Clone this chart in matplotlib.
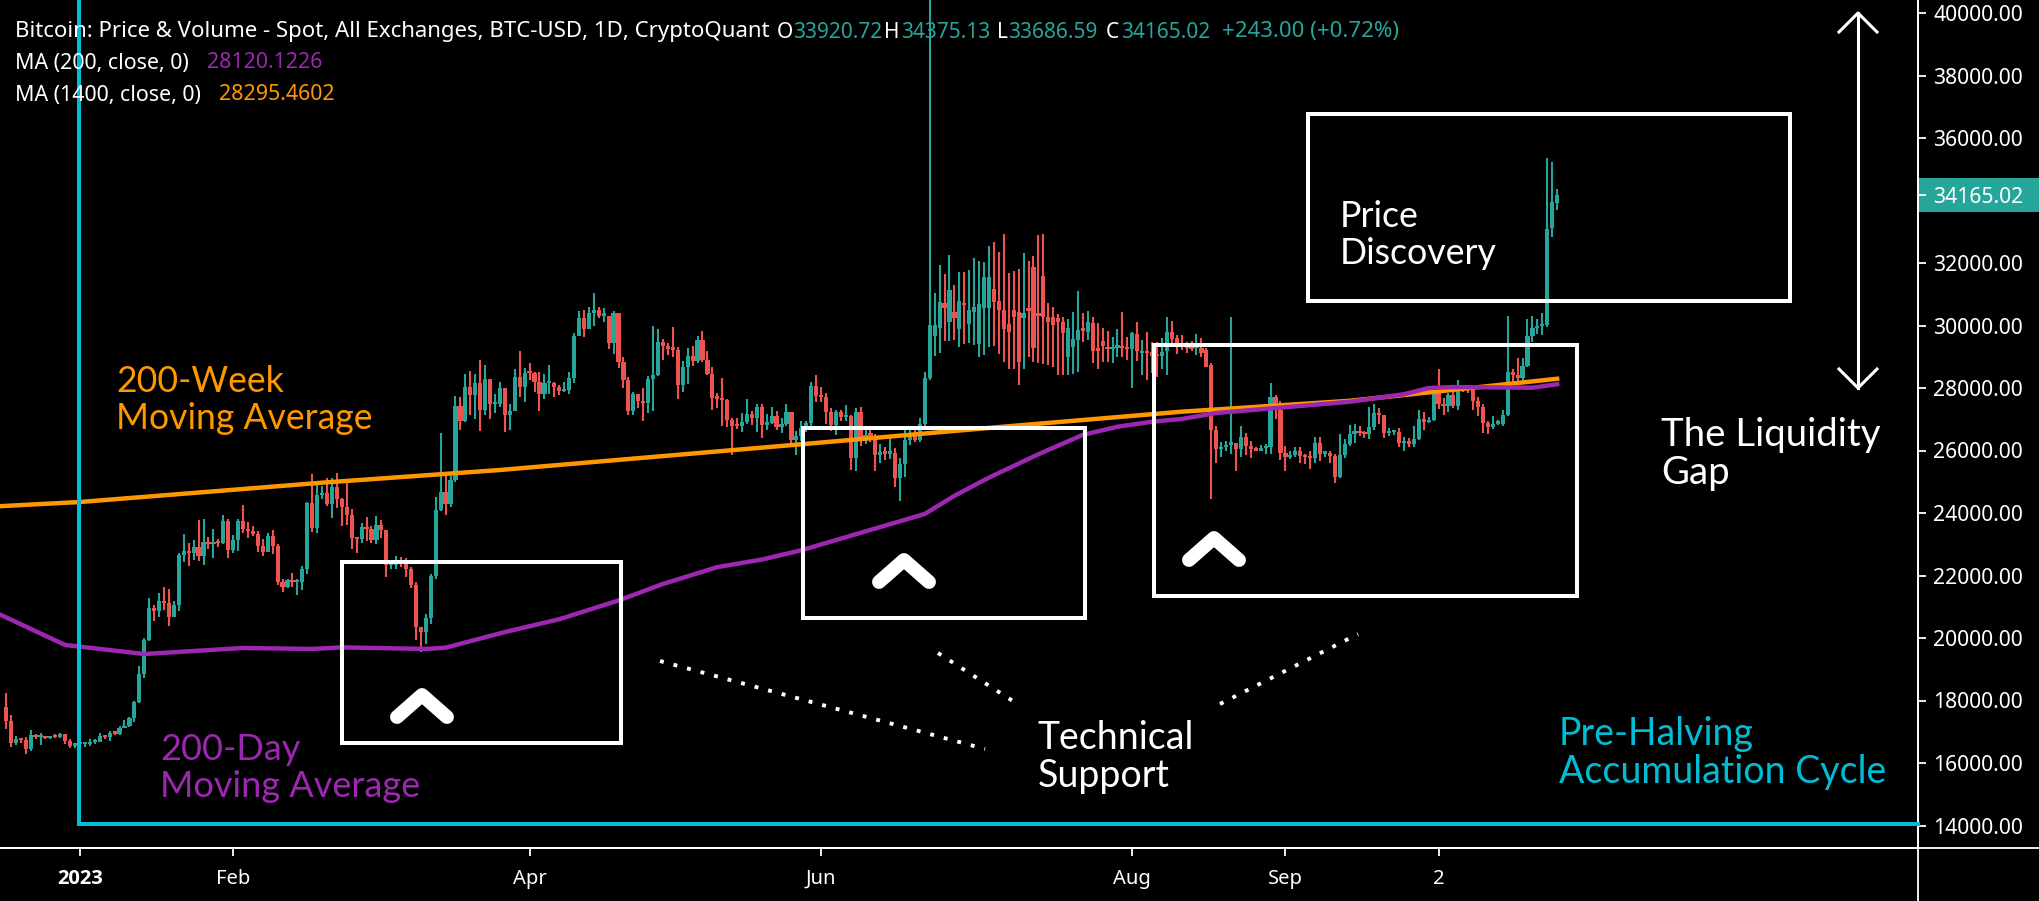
# BTC daily candles with 200-day / 200-week moving averages

import numpy as np
import matplotlib
matplotlib.use('Agg')
import matplotlib.pyplot as plt
from matplotlib.patches import Rectangle

# ---------- data (first bar is day -16, day 0 = 1 Jan 2023) ----------
first_day = -16
first_open = 17780
closes = [
    # Dec
    17360, 16630, 16780, 16740, 16440, 16900, 16820, 16830, 16800, 16850, 16840, 16920, 16710, 16550, 16640, 16600,
    # Jan
    16610, 16670, 16670, 16850, 16830, 16950, 16940, 17120, 17180, 17440, 17940, 18850, 19930, 20960, 20880, 21170,
    21130, 20680, 21070, 22670, 22780, 22710, 22920, 22630, 23060, 23010, 23080, 23030, 23740, 22830, 23130,
    # Feb
    23730, 23490, 23430, 23330, 22940, 22760, 23260, 22960, 21800, 21630, 21860, 21780, 21790, 22200, 24330, 23530,
    24570, 24630, 24280, 24840, 24450, 24190, 23940, 23190, 23160, 23560, 23490, 23140,
    # Mar
    23630, 23470, 22350, 22350, 22430, 22410, 22200, 21700, 20360, 20190, 20630, 21990, 24110, 24670, 24290, 25050,
    27420, 26960, 28030, 27780, 28170, 27300, 28300, 27480, 27490, 27990, 27130, 27260, 28350, 28030, 28480,
    # Apr
    28470, 28200, 27800, 28170, 28170, 28030, 27910, 27950, 28330, 29650, 30230, 29890, 30400, 30490, 30320, 30320,
    29440, 30400, 28820, 28250, 27270, 27820, 27590, 27510, 28300, 28420, 29470, 29340, 29240, 29230,
    # May
    28090, 28680, 29030, 28850, 29530, 28900, 28450, 27690, 27660, 27620, 26990, 26800, 26780, 26920, 27160, 27030,
    27400, 26830, 26890, 27110, 26750, 26850, 27220, 26330, 26480, 26720, 26870, 28080, 27740, 27700, 27220,
    # Jun 1-20
    26810, 27230, 27070, 27100, 25760, 27230, 26340, 26490, 26480, 25850, 25940, 25900, 25920, 25130, 25580, 26340,
    26510, 26340, 26850, 28310,
    # Jun 21 - Aug 17
    30016, 30016, 30741, 30549, 31136, 30251, 30784, 30656, 30496, 30603, 30677, 31563, 31563, 30763, 30496, 29888,
    29802, 30283, 28843, 30389, 30475, 29291, 30304, 30283, 30101, 30016, 30101, 29770, 29909, 29568, 29856, 29835,
    30123, 29184, 29195, 29344, 29237, 29323, 29376, 29269, 29237, 29771, 29184, 29163, 29109, 29035, 29024, 29163,
    29781, 29568, 29429, 29376, 29269, 29237, 29323, 29109, 28683, 26650,
    # Aug 18-31
    26050, 26100, 26190, 26230, 26040, 26430, 26160, 26050, 26000, 26090, 26100, 27720, 27300, 25930,
    # Sep
    25800, 25870, 25970, 25830, 25780, 25750, 26240, 25900, 25900, 25840, 25160, 25850, 26220, 26540, 26610, 26570,
    26530, 26760, 27210, 27130, 26570, 26580, 26580, 26250, 26300, 26220, 26370, 27020, 26910, 26970,
    # Oct
    27990, 27500, 27430, 27790, 27420, 27950, 27960, 27930, 27590, 27390, 26880, 26760, 26860, 26860, 27150, 28520,
    28420, 28320, 28720, 29680, 29910, 29990, 30030, 33090, 33950, 34165.02,
]
highs = [
    18240, 17530, 16850, 16800, 16820, 17050, 16920, 16950, 16870, 16880, 16930, 16970, 16930, 16780, 16650, 16650,
    16630, 16760, 16770, 16970, 16880, 17020, 16960, 17170, 17390, 17480, 18000, 19100, 20000, 21280, 21070, 21450,
    21630, 21580, 21190, 22730, 23320, 23050, 23150, 23790, 23800, 23230, 23480, 23180, 23950, 23800, 23300,
    23800, 24250, 23700, 23590, 23440, 23160, 23350, 23450, 23010, 21900, 21900, 22080, 21880, 22320, 24350, 25250,
    25020, 24870, 25130, 25120, 25280, 24480, 25040, 24130, 23220, 23680, 23880, 23600,
    23890, 23790, 23470, 22420, 22610, 22600, 22550, 22280, 21800, 20300, 20780, 22050, 24500, 26560, 25250, 25200,
    27750, 27700, 28450, 28530, 28450, 28900, 28750, 28000, 27800, 28200, 27990, 27500, 28620, 29170, 28650,
    28800, 28500, 28500, 28450, 28750, 28180, 28100, 28180, 28500, 29770, 30450, 30500, 30600, 31040, 30600, 30550,
    30320, 30480, 30400, 29000, 28350, 27880, 27820, 28000, 28400, 30000, 29880, 29580, 29450, 29950,
    29300, 28880, 29280, 29360, 29680, 29830, 29180, 28660, 27840, 28330, 27650, 27050, 27050, 27200, 27650, 27280,
    27480, 27480, 27180, 27400, 27250, 27050, 27480, 27220, 26620, 26930, 26950, 28180, 28430, 28030, 27830,
    27350, 27300, 27300, 27450, 27130, 27350, 27400, 26800, 26770, 26520, 26200, 26100, 26400, 26080, 25750, 26770,
    26780, 26680, 27040, 28512,
    41500, 31029, 31936, 31637, 32256, 31296, 31722, 31722, 31776, 32149, 32064, 32021, 32555, 32683, 32341, 32917,
    31691, 31755, 31808, 32309, 32064, 32235, 32896, 32917, 30709, 30603, 30368, 30283, 30197, 30443, 31104, 30411,
    30475, 30261, 30069, 29909, 29835, 29642, 29877, 30443, 29642, 29800, 30123, 29536, 29781, 29461, 29483, 29589,
    30261, 30144, 29696, 29696, 29483, 29515, 29717, 29589, 29269, 28800,
    26800, 26280, 26300, 30280, 26130, 26800, 26550, 26300, 26100, 26170, 26220, 28170, 27780, 27570,
    26150, 25980, 26100, 26100, 25880, 26000, 26420, 26430, 25940, 25980, 25880, 26530, 26380, 26830, 26850, 26770,
    26620, 27400, 27490, 27370, 27150, 26720, 26630, 26720, 26430, 26400, 26800, 27300, 27230, 27080,
    28060, 28600, 27670, 27830, 28100, 28250, 28000, 28110, 27990, 27720, 27480, 26950, 27100, 26980, 27300, 30304,
    28620, 28970, 28950, 30220, 30300, 30200, 30400, 35370, 35230, 34375.13,
]
lows = [
    17100, 16500, 16580, 16650, 16300, 16400, 16770, 16570, 16760, 16780, 16790, 16800, 16600, 16470, 16490, 16500,
    16500, 16550, 16600, 16660, 16770, 16690, 16910, 16910, 17110, 17140, 17320, 17920, 18720, 19890, 20550, 20680,
    20900, 20400, 20670, 20880, 22420, 22300, 22500, 22480, 22350, 22850, 22550, 22900, 23000, 22550, 22720,
    22800, 23360, 23200, 23250, 22750, 22630, 22750, 22680, 21700, 21470, 21600, 21620, 21370, 21530, 22050, 23400,
    23350, 24450, 24230, 23850, 24170, 23600, 23620, 22850, 22730, 23050, 23120, 23030,
    23000, 23200, 21950, 22220, 22210, 22270, 21950, 21600, 19950, 19560, 19800, 20440, 21900, 24050, 23950, 24200,
    25000, 26650, 26900, 27150, 27000, 26620, 27150, 27000, 27200, 27380, 26600, 26650, 27250, 27720, 27550,
    28250, 27870, 27250, 27650, 27820, 27720, 27780, 27880, 27800, 28170, 29650, 29620, 29880, 30000, 30230, 30120,
    29250, 29100, 28650, 28000, 27150, 27150, 27350, 26950, 27200, 27250, 28400, 28900, 29050, 29000,
    27650, 27870, 28130, 28700, 28800, 28820, 28420, 27300, 27350, 26800, 26740, 25850, 26700, 26600, 26850, 26830,
    26580, 26400, 26650, 26860, 26650, 26550, 26800, 26100, 25870, 26320, 26600, 26780, 27560, 27550, 26850,
    26620, 26500, 26950, 26950, 25390, 25350, 26130, 26200, 26270, 25350, 25600, 25700, 25720, 24830, 24400, 25160,
    26170, 26280, 26260, 26650,
    28256, 29024, 29109, 29515, 29515, 29536, 29301, 29408, 29429, 29376, 29003, 29056, 29323, 29344, 29077, 28843,
    28597, 28597, 28096, 28608, 29003, 28843, 28811, 28768, 28736, 28683, 28416, 28416, 28416, 28437, 28523, 29483,
    29536, 28789, 28608, 28843, 28843, 28811, 29003, 29003, 28896, 28010, 28875, 28416, 28256, 28469, 28341, 28597,
    28416, 29323, 29077, 29216, 29109, 29200, 29056, 29003, 28661, 24450,
    25600, 25800, 26000, 25900, 25350, 25800, 25860, 25770, 25970, 25970, 25880, 25900, 27000, 25700,
    25340, 25730, 25800, 25600, 25570, 25400, 25600, 25650, 25800, 25600, 24950, 25130, 25750, 26130, 26230, 26470,
    26400, 26380, 26670, 26850, 26400, 26480, 26500, 26120, 26000, 26110, 26120, 26340, 26670, 26890,
    26950, 27330, 27150, 27220, 27370, 27290, 27860, 27850, 27300, 27100, 26560, 26540, 26700, 26810, 26800, 27120,
    28100, 28150, 28170, 28670, 29480, 29730, 29700, 29950, 32830, 33686.59,
]
# bodies between 21 Jun and 17 Aug do not open at the previous close
midyear_start = 171
midyear_opens = [
    28309, 29664, 29909, 30709, 30101, 30443, 29888, 30709, 30037, 30443, 29408, 30549, 30549, 31157, 30784, 30496,
    30048, 30496, 30443, 30251, 30528, 31883, 30389, 31584, 30283, 30283, 30229, 30123, 29003, 29301, 29536, 29909,
    29781, 30069, 29237, 29515, 29269, 29237, 29269, 29344, 29269, 29237, 29717, 29109, 29141, 29163, 29056, 29035,
    29195, 29781, 29589, 29429, 29323, 29344, 29269, 29269, 29216, 28736,
]
last_opens = [30016, 33120, 33920.72]

ma200_days = [-17, -4, 12, 32, 46, 52, 69, 73, 85, 96, 108, 117, 128, 137, 145, 170, 176, 183, 193, 202, 209, 216, 222,
              229, 256, 267, 272, 277, 293, 298]
ma200_vals = [20736, 19776, 19488, 19680, 19650, 19700, 19650, 19690, 20190, 20600, 21200, 21730, 22268, 22510, 22807,
              23970, 24550, 25133, 25880, 26500, 26760, 26920, 27008, 27200, 27560, 27800, 28000, 28030, 28010, 28120]
ma1400_days = [-17, -1, 48, 84, 145, 185, 222, 256, 298]
ma1400_vals = [24220, 24352, 24970, 25376, 26200, 26750, 27242, 27590, 28295]

price_ticks = [14000, 16000, 18000, 20000, 22000, 24000, 26000, 28000, 30000, 32000, 34165.02, 36000, 38000, 40000]
date_ticks = [-1, 30, 90, 149, 212, 243, 274]
date_labels = ['2023', 'Feb', 'Apr', 'Jun', 'Aug', 'Sep', '2']

# ---------- colours ----------
teal = '#26a69a'
red = '#ef5350'
orange = '#ff9800'
purple = '#9c27b0'
cyan = '#00bcd4'
white = '#ffffff'

font_ui = 'Noto Sans'
font_note = 'Lato'

# ---------- canvas: sizes below are pixels of the 2040x901 picture ----------
W, H = 2040, 901
fig = plt.figure(figsize=(W / 100, H / 100), dpi=100, facecolor='black')
plot_right, plot_bottom = 1918, 848
ax = fig.add_axes([0, 1 - plot_bottom / H, plot_right / W, plot_bottom / H], facecolor='black')
ax.set_xlim(-17.2, 371.05)
ax.set_ylim(13280, 40416)

# ---------- candles ----------
closes = np.array(closes, dtype=float)
highs = np.array(highs, dtype=float)
lows = np.array(lows, dtype=float)
opens = np.r_[first_open, closes[:-1]]
i0 = midyear_start - first_day
opens[i0:i0 + len(midyear_opens)] = midyear_opens
opens[-len(last_opens):] = last_opens
days = np.arange(first_day, first_day + len(closes))
colors = [teal if c >= o else red for o, c in zip(opens, closes)]

ax.vlines(days, lows, highs, colors=colors, lw=1.5, zorder=2)
ax.bar(days, np.maximum(np.abs(closes - opens), 70), bottom=np.minimum(opens, closes),
       width=0.85, color=colors, linewidth=0, zorder=2.1)

# ---------- moving averages ----------
ax.plot(ma1400_days, ma1400_vals, color=orange, lw=3.2, zorder=3)
ax.plot(ma200_days, ma200_vals, color=purple, lw=3.2, zorder=3.1)

# ---------- axes ----------
for side in ['top', 'left']:
    ax.spines[side].set_visible(False)
ax.spines['right'].set_color(white)
ax.spines['bottom'].set_color(white)
ax.spines['right'].set_linewidth(1.3)
ax.spines['bottom'].set_linewidth(1.3)
ax.yaxis.tick_right()
ax.set_yticks(price_ticks)
ax.set_yticklabels(['%.2f' % v for v in price_ticks], family=font_ui, fontsize=15.2, color=white)
ax.set_xticks(date_ticks)
ax.set_xticklabels(date_labels, family=font_ui, fontsize=14.5, color=white)
ax.get_xticklabels()[0].set(family='Open Sans', fontweight='bold')
ax.tick_params(axis='y', length=6, width=1.3, color=white, pad=5)
ax.tick_params(axis='x', length=6, width=1.3, color=white, pad=9)

# price tag behind the last price label
ax.add_patch(Rectangle((1, 34165.02 - 544), (W - plot_right) / plot_right, 1088,
                       transform=ax.get_yaxis_transform(), facecolor=teal, edgecolor='none',
                       clip_on=False, zorder=0.5))

# ---------- drawn-on notes, in picture pixels ----------
ov = fig.add_axes([0, 0, 1, 1])
ov.set_xlim(0, W)
ov.set_ylim(H, 0)
ov.axis('off')

ov.plot([0, W], [plot_bottom, plot_bottom], color=white, lw=1.3)
ov.plot([plot_right, plot_right], [0, H], color=white, lw=1.3)

# header
head = dict(family=font_ui, fontsize=16, va='center', ha='left')
vals = dict(family=font_ui, fontsize=15.4, va='center', ha='left')
ohlc = dict(family=font_ui, fontsize=15, va='center', ha='left')
ov.text(15, 32, 'Bitcoin: Price & Volume - Spot, All Exchanges, BTC-USD, 1D, CryptoQuant', color=white, **head)
for x, letter in [(777, 'O'), (884, 'H'), (997, 'L'), (1106, 'C')]:
    ov.text(x, 32, letter, color=white, **ohlc)
for x, value in [(793, '33920.72'), (901, '34375.13'), (1008, '33686.59'), (1121, '34165.02')]:
    ov.text(x, 32, value, color=teal, **ohlc)
ov.text(1222, 32, '+243.00 (+0.72%)', color=teal, **head)
ov.text(15, 63, 'MA (200, close, 0)', color=white, **vals)
ov.text(207, 63, '28120.1226', color=purple, **vals)
ov.text(15, 95, 'MA (1400, close, 0)', color=white, **vals)
ov.text(219, 95, '28295.4602', color=orange, **vals)

# cyan cycle marker
ov.plot([79, 79, plot_right], [0, 824, 824], color=cyan, lw=2.9, solid_joinstyle='miter')

# boxes
for x0, y0, x1, y1 in [(342, 562, 621, 743), (803, 428, 1085, 618), (1154, 345, 1577, 596), (1308, 114, 1790, 301)]:
    ov.add_patch(Rectangle((x0, y0), x1 - x0, y1 - y0, fill=False, edgecolor=white, lw=2.9))

# chevrons
for x, y in [(422, 695), (904, 560), (1214, 538)]:
    ov.plot([x - 25, x, x + 25], [y + 22, y, y + 22], color=white, lw=10,
            solid_capstyle='round', solid_joinstyle='round')

# dotted leaders
for x0, y0, x1, y1 in [(660, 661, 985, 749), (938, 653, 1016, 703), (1220, 704, 1358, 634)]:
    ov.plot([x0, x1], [y0, y1], color=white, lw=2.8, linestyle=(0, (1, 2.6)))

# liquidity gap arrow
ov.plot([1858, 1858], [13, 388], color=white, lw=2.2)
ov.plot([1839, 1858, 1877], [32, 13, 32], color=white, lw=2.2)
ov.plot([1839, 1858, 1877], [369, 388, 369], color=white, lw=2.2)

# notes
note = dict(family=font_note, va='center', ha='left')
ov.text(116, 400, '200-Week\nMoving Average', color=orange, fontsize=25.6, linespacing=1.14, **note)
ov.text(160, 768, '200-Day\nMoving Average', color=purple, fontsize=26, linespacing=1.13, **note)
ov.text(1038, 757, 'Technical\nSupport', color=white, fontsize=27, linespacing=1.09, **note)
ov.text(1340, 235, 'Price\nDiscovery', color=white, fontsize=25.7, linespacing=1.14, **note)
ov.text(1661, 454, 'The Liquidity\nGap', color=white, fontsize=27.6, linespacing=1.07, **note)
ov.text(1559, 753, 'Pre-Halving\nAccumulation Cycle', color=cyan, fontsize=27, linespacing=1.09, **note)

fig.savefig('out.png', dpi=100, facecolor='black')
plt.close()
